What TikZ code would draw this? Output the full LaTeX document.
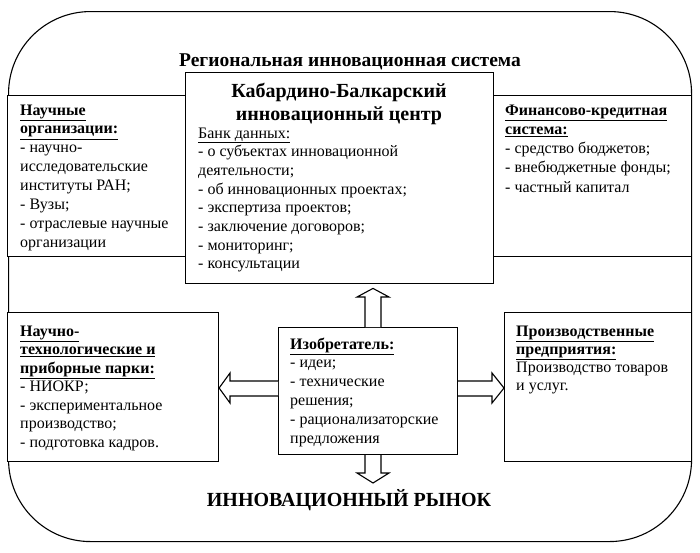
\documentclass[tikz,border=0pt]{standalone}
\usepackage{fontspec}
\setmainfont{Liberation Serif}
\usetikzlibrary{calc}
\newcommand{\hd}[1]{\underline{\textbf{#1}}}
\begin{document}
\begin{tikzpicture}[x=1pt,y=-1pt,
  box/.style={draw,line width=1.1pt,fill=white,anchor=north west,inner sep=0pt},
  body/.style={anchor=base west,inner sep=0pt,align=left},
  barrow/.style={draw,line width=1.1pt,fill=white,line join=miter}]
\useasboundingbox (0,0) rectangle (700,552);
\node[draw,line width=1.1pt,rounded corners=82pt,anchor=north west,inner sep=0pt,
  minimum width=683pt,minimum height=530pt] (outer) at (8,11) {};
\node[anchor=base,font=\bfseries\fontsize{19.5}{22}\selectfont] (title) at (350,66)
  {Региональная инновационная система};
\node[box,minimum width=178pt,minimum height=161pt] (nauch) at (7,95) {};
\node[box,line width=1.4pt,minimum width=308pt,minimum height=211pt] (kbc) at (185,72) {};
\node[box,minimum width=198pt,minimum height=161pt] (fin) at (493,95) {};
\node[box,minimum width=211pt,minimum height=149pt] (parks) at (7,312) {};
\node[box,minimum width=179pt,minimum height=127pt] (inv) at (278,327) {};
\node[box,minimum width=187pt,minimum height=149pt] (pred) at (504,312) {};
% texts (anchor base = baseline of last line)
\node[anchor=base,align=center,inner sep=0pt,font=\bfseries\fontsize{20}{23}\selectfont] (kbct) at (339,120)
  {Кабардино-Балкарский\\инновационный центр};
\node[body,font=\fontsize{16}{18.9}\selectfont] (nauchtx) at (20,247.3)
  {\hd{Научные}\\\hd{организации:}\\- научно-\\исследовательские\\институты РАН;\\- Вузы;\\- отраслевые научные\\организации};
\node[body,font=\fontsize{16}{18.7}\selectfont] (kbctx) at (198,268.9)
  {\underline{Банк данных:}\\- о субъектах инновационной\\деятельности;\\- об инновационных проектах;\\- экспертиза проектов;\\- заключение договоров;\\- мониторинг;\\- консультации};
\node[body,font=\fontsize{16}{19.3}\selectfont] (fintx) at (505,192.2)
  {\hd{Финансово-кредитная}\\\hd{система:}\\- средство бюджетов;\\- внебюджетные фонды;\\- частный капитал};
\node[body,font=\fontsize{16}{18.5}\selectfont] (parkstx) at (20,447)
  {\hd{Научно-}\\\hd{технологические и}\\\hd{приборные парки:}\\- НИОКР;\\- экспериментальное\\производство;\\- подготовка кадров.};
\node[body,font=\fontsize{16}{18.8}\selectfont] (invtx) at (290,443)
  {\hd{Изобретатель:}\\- идеи;\\- технические\\решения;\\- рационализаторские\\предложения};
\node[body,font=\fontsize{16}{18}\selectfont] (predtx) at (516,390)
  {\hd{Производственные}\\\hd{предприятия:}\\Производство товаров\\и услуг.};
\node[anchor=base,font=\bfseries\fontsize{20}{23}\selectfont] (market) at (349,506)
  {ИННОВАЦИОННЫЙ РЫНОК};
% block arrows
\coordinate (dtip) at (373,483);
\draw[barrow] (365,0 |- inv.north) -- (365,297) -- (357,297) -- ($(373,0 |- kbc.south)+(0,4)$)
  -- (389,297) -- (381,297) -- (381,0 |- inv.north);
\draw[barrow] (365,0 |- inv.south) -- (365,473) -- (357,473) -- (dtip)
  -- (389,473) -- (381,473) -- (381,0 |- inv.south);
\draw[barrow] (inv.west |- 0,381) -- (230,381) -- (230,373) -- (parks.east |- 0,388)
  -- (230,403) -- (230,396) -- (inv.west |- 0,396);
\draw[barrow] (inv.east |- 0,381) -- (492,381) -- (492,373) -- (pred.west |- 0,388)
  -- (492,403) -- (492,396) -- (inv.east |- 0,396);
\end{tikzpicture}
\end{document}
